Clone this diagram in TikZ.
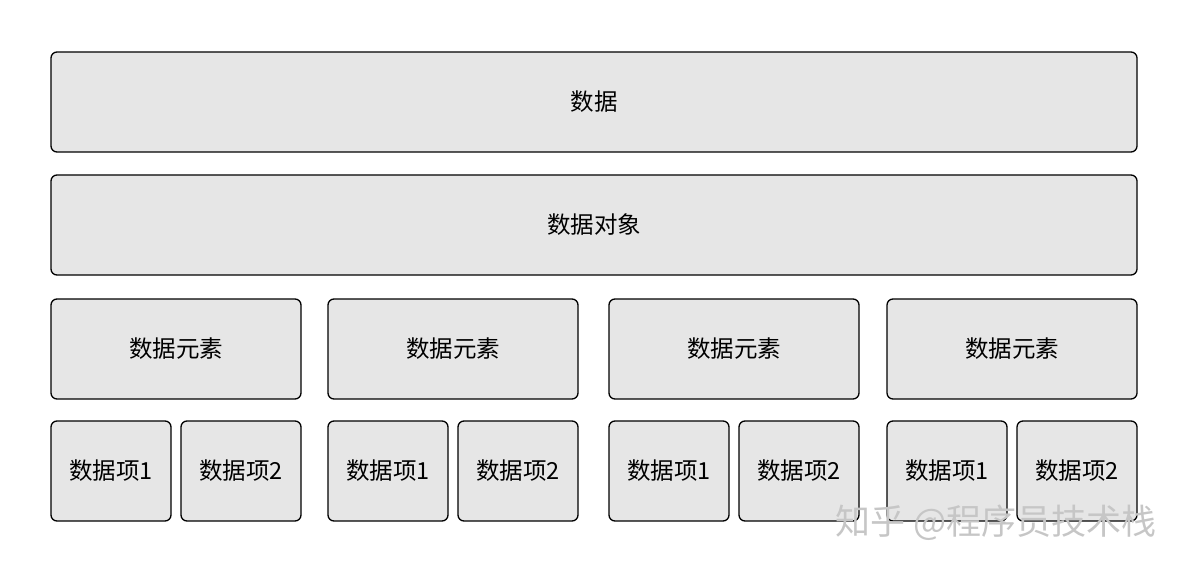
\documentclass[tikz,border=0pt]{standalone}
\usepackage{fontspec}
\setmainfont{Noto Sans CJK SC}
\definecolor{boxgray}{RGB}{230, 230, 230}

\tikzset{
  databox/.style={draw=black, fill=boxgray, rounded corners=6pt, line width=1.3pt,
    minimum height=100pt, inner sep=0pt, font=\fontsize{23.5}{26}\selectfont},
}

\begin{document}
\begin{tikzpicture}[x=1pt, y=-1pt]
    \useasboundingbox (0,0) rectangle (1188,572);

    % Top layers
    \node[databox, minimum width=1086pt] (data) at (594,102) {数据};
    \node[databox, minimum width=1086pt] (dataobj) at (594,225) {数据对象};

    % Data elements
    \foreach \x/\n in {176/a, 453/b, 734/c, 1012/d} {
        \node[databox, minimum width=250pt] (elem\n) at (\x,349) {数据元素};
    }

    % Data items
    \foreach \x/\n/\t in {111/a1/1, 241/a2/2, 388/b1/1, 518/b2/2, 669/c1/1, 799/c2/2, 947/d1/1, 1077/d2/2} {
        \node[databox, minimum width=120pt] (item\n) at (\x,471) {数据项\t};
    }

    % Watermark
    \node[text=gray!45, font=\fontsize{35}{38}\selectfont] (mark) at (996,523) {知乎 @程序员技术栈};
\end{tikzpicture}
\end{document}
